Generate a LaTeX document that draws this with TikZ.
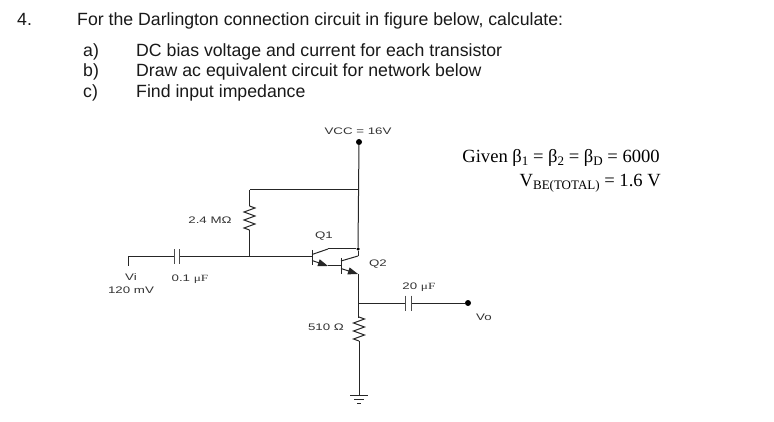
\documentclass[tikz,border=0pt]{standalone}
\usepackage{fontspec}
\setmainfont{Liberation Sans}
\newfontfamily\timesfont{Liberation Serif}
\newfontfamily\widefont[FakeStretch=1.4]{Liberation Sans}
\newfontfamily\widetimes[FakeStretch=1.4]{Liberation Serif}
\usetikzlibrary{arrows.meta,decorations.pathmorphing,positioning}
\newcommand{\subtxt}[1]{\raisebox{-2.4pt}{\fontsize{13}{13}\selectfont #1}}
\begin{document}
\begin{tikzpicture}[x=1pt,y=-1pt]
		\tikzstyle{connect}=[line width=1pt, black!85]
		\tikzstyle{plate}=[line width=1pt, black!70]
		\tikzstyle{resistor}=[connect, decorate, decoration={zigzag, segment length=8pt, amplitude=5.5pt}]
		\tikzstyle{emitter}=[connect, -{Triangle[length=10pt, width=7pt]}]
		\tikzstyle{terminal}=[circle, fill=black, inner sep=0pt, minimum size=6pt]
		\tikzstyle{joint}=[circle, fill=black, inner sep=0pt, minimum size=3.5pt]
		\tikzstyle{head}=[anchor=base west, inner sep=0pt, font=\fontsize{17.7}{17.7}\selectfont, black!90]
		\tikzstyle{small}=[inner sep=0pt, font=\widefont\fontsize{9.5}{9.5}\selectfont, black!80]
		\tikzstyle{given}=[anchor=base east, inner sep=0pt, font=\timesfont\fontsize{18.6}{18.6}\selectfont]
		\path[use as bounding box, fill=white] (0,0) rectangle (774,422);

		% question text
		\node[head] (num) at (17,26) {4.};
		\node[head] (title) at (77,26) {For the Darlington connection circuit in figure below, calculate:};
		\node[head] (la) at (83,57) {a)};
		\node[head] (lb) at (83,77) {b)};
		\node[head] (lc) at (83,98) {c)};
		\node[head] (ta) at (136,57) {DC bias voltage and current for each transistor};
		\node[head] (tb) at (136,77) {Draw ac equivalent circuit for network below};
		\node[head] (tc) at (136,98) {Find input impedance};
		\node[given] (g1) at (660,163) {Given β\subtxt{1} = β\subtxt{2} = β\subtxt{D} = 6000};
		\node[given] (g2) at (661,187) {V\subtxt{BE(TOTAL)} = 1.6 V};

		% points of the circuit
		\coordinate (vi) at (128,266);
		\coordinate (vit) at (128,257);
		\coordinate (c1a) at (174,257);
		\coordinate (c1b) at (179,257);
		\coordinate (rbb) at (249.5,257);
		\coordinate (rbl) at (249.5,230);
		\coordinate (rbu) at (249.5,206);
		\coordinate (rbt) at (249.5,190);
		\coordinate (top) at (358,190);
		\coordinate (q1b) at (312,257);
		\coordinate (q1u) at (312,250);
		\coordinate (q1d) at (312,265);
		\coordinate (q1cs) at (312,254.5);
		\coordinate (q1ce) at (328,249);
		\coordinate (q1es) at (312,260.5);
		\coordinate (q1ee) at (328,266);
		\coordinate (q2b) at (341,266);
		\coordinate (q2u) at (341,258);
		\coordinate (q2d) at (341,274);
		\coordinate (q2cs) at (341,261);
		\coordinate (q2ce) at (358,256);
		\coordinate (q2es) at (341,268.5);
		\coordinate (q2ee) at (358,274);
		\coordinate (out) at (358,303);
		\coordinate (c2a) at (405,303);
		\coordinate (c2b) at (411,303);
		\coordinate (rel) at (359,341);
		\coordinate (reu) at (359,317);
		\coordinate (gnd) at (359,395);

		\node[terminal] (vcc) at (359,142) {};
		\node[joint] (mid) at (358,249) {};
		\node[terminal] (vo) at (468,303) {};

		\path
		(vi) edge [connect] (vit)
		(vit) edge [connect] (c1a)
		(c1b) edge [connect] (q1b)
		(rbb) edge [connect] (rbl)
		(rbu) edge [connect] (rbt)
		(rbt) edge [connect] (top)
		(vcc) edge [connect] (mid)
		(q1ce) edge [connect] (mid)
		(q1cs) edge [connect] (q1ce)
		(q1ee) edge [connect] (q2b)
		(q2cs) edge [connect] (q2ce)
		(q2ce) edge [connect] (mid)
		(q2ee) edge [connect] (out)
		(out) edge [connect] (c2a)
		(c2b) edge [connect] (vo)
		(out) edge [connect] (out|-reu)
		(out|-reu) edge [connect] (reu)
		(rel) edge [connect] (gnd)
		(q1u) edge [connect] (q1d)
		(q2u) edge [connect] (q2d)
		(q1es) edge [emitter] (q1ee)
		(q2es) edge [emitter] (q2ee)
		;

		% capacitors
		\draw[plate] (c1a) ++(0,-7.5) -- ++(0,15);
		\draw[plate] (c1b) ++(0,-7.5) -- ++(0,15);
		\draw[plate] (c2a) ++(0,-7.5) -- ++(0,15);
		\draw[plate] (c2b) ++(0,-7.5) -- ++(0,15);

		% resistors
		\draw[resistor] (rbl) -- (rbu);
		\draw[resistor] (reu) -- (rel);

		% ground
		\draw[connect] (gnd) ++(-9,0) -- ++(18,0);
		\draw[connect] (gnd) ++(-5,4) -- ++(10,0);
		\draw[connect] (gnd) ++(-2,8) -- ++(4,0);

		% labels
		\node[small] (lvcc) at (358,131) {VCC = 16V};
		\node[small] (lq1) at (324,236) {Q1};
		\node[small] (lq2) at (378,264) {Q2};
		\node[small] (lrb) at (210,220) {2.4 MΩ};
		\node[small] (lc1) at (190,279) {0.1 {\widetimes μF}};
		\node[small] (lc2) at (419,287) {20 {\widetimes μF}};
		\node[small] (lre) at (326,327) {510 Ω};
		\node[small] (lvi) at (131,277) {Vi};
		\node[small] (lmv) [below=6pt of lvi] {120 mV};
		\node[small] (lvo) at (484,317) {Vo};
\end{tikzpicture}
\end{document}
